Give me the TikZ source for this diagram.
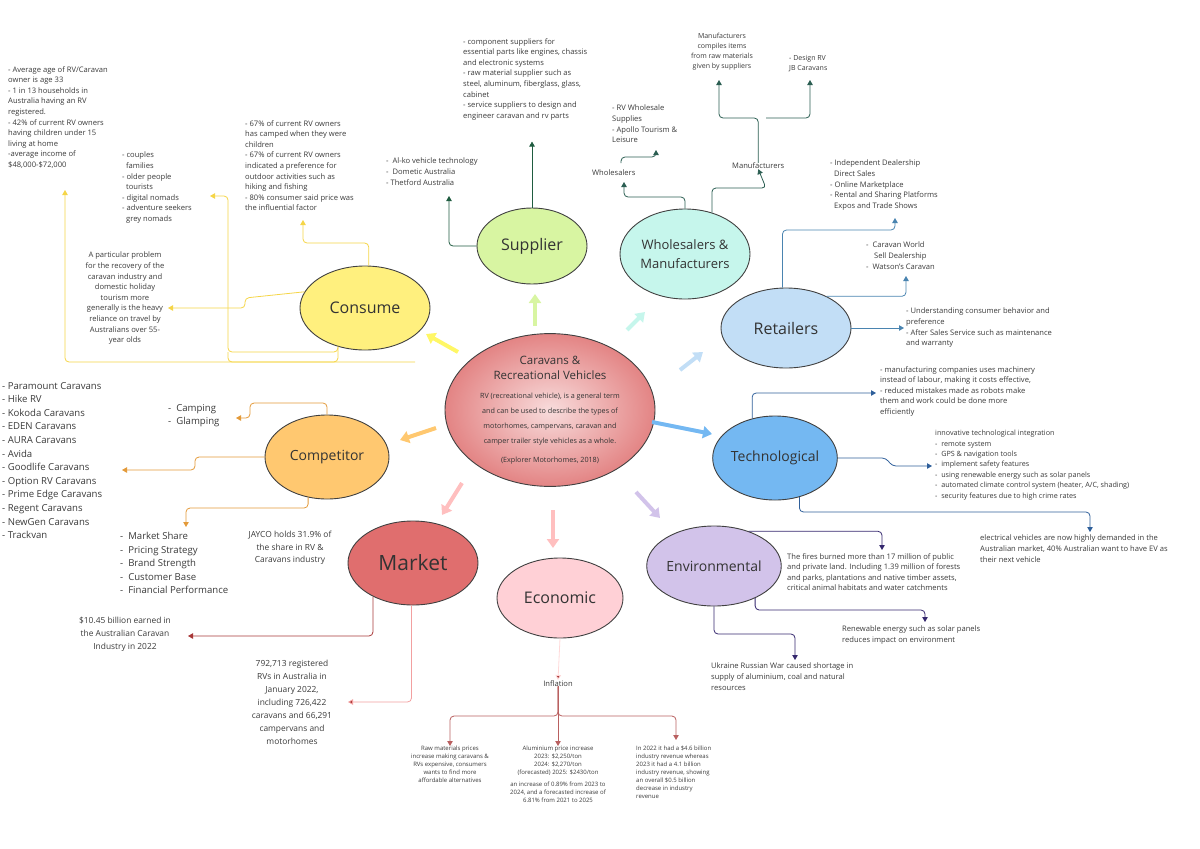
\documentclass[tikz,border=0pt]{standalone}
\usepackage{fontspec}
\setmainfont{Open Sans}
\usetikzlibrary{shapes.geometric,arrows.meta}
\definecolor{cyel}{HTML}{F5D547}
\definecolor{cgrn}{HTML}{1F5C40}
\definecolor{cteal}{HTML}{2B5E52}
\definecolor{cblu}{HTML}{4A84B0}
\definecolor{ctech}{HTML}{2F5F9A}
\definecolor{cenv}{HTML}{35286E}
\definecolor{cmkt}{HTML}{A83838}
\definecolor{cmkl}{HTML}{F2A0A0}
\definecolor{cora}{HTML}{E39A3A}
\definecolor{ctxt}{HTML}{3A3A3A}
\definecolor{fC}{HTML}{E38484}
\definecolor{fCi}{HTML}{F8DCDC}
\definecolor{fSup}{HTML}{D8F5A2}
\definecolor{fWm}{HTML}{C6F6EC}
\definecolor{fCons}{HTML}{FFF07E}
\definecolor{fRet}{HTML}{C2DEF6}
\definecolor{fComp}{HTML}{FFC870}
\definecolor{fTech}{HTML}{74B8F2}
\definecolor{fMkt}{HTML}{E06E6E}
\definecolor{fEco}{HTML}{FFD0D6}
\definecolor{fEnv}{HTML}{D2C3EA}
\newcommand{\smf}{\fontsize{7.2}{10}\selectfont}
\tikzset{
 cat/.style={ellipse,draw=black!75,line width=0.9pt,inner sep=0,text=black!80,font=\fontsize{16}{18}\selectfont},
 txt/.style={inner sep=0,align=left,text=ctxt,font=\fontsize{7.6}{10.6}\selectfont},
 txtc/.style={txt,align=center},
 big/.style={txt,font=\fontsize{9.6}{13.6}\selectfont},
 tiny/.style={txtc,font=\fontsize{6}{8}\selectfont},
 cl/.style={line width=0.8pt,rounded corners=4pt,-{Triangle[width=5.5pt,length=5pt]}},
 fat/.style={line width=4pt,-{Triangle[width=12pt,length=9pt]}},
}
\begin{document}
\begin{tikzpicture}[x=1pt,y=-1pt]
\useasboundingbox (0,0) rectangle (1200,849);
% main nodes
\node[cat,minimum width=210,minimum height=150,inner color=fCi,outer color=fC,draw=black!75,align=center,font=\fontsize{11.5}{15}\selectfont] (c) at (550,410)
 {Caravans \&\\Recreational Vehicles\\[4pt]
 \smf RV (recreational vehicle), is a general term\\\smf and can be used to describe the types of\\\smf motorhomes, campervans, caravan and\\\smf camper trailer style vehicles as a whole.\\[4pt]
 \smf (Explorer Motorhomes, 2018)};
\node[cat,fill=fSup,minimum width=110,minimum height=76] (sup) at (532,246) {Supplier};
\node[cat,fill=fWm,minimum width=130,minimum height=90,align=center,font=\fontsize{13}{19}\selectfont] (wm) at (685,254) {Wholesalers \&\\Manufacturers};
\node[cat,fill=fCons,minimum width=130,minimum height=84] (cons) at (365,308) {Consume};
\node[cat,fill=fRet,minimum width=130,minimum height=80] (ret) at (786,328) {Retailers};
\node[cat,fill=fComp,minimum width=124,minimum height=84,font=\fontsize{14}{16}\selectfont] (comp) at (327,457) {Competitor};
\node[cat,fill=fTech,minimum width=124,minimum height=84,font=\fontsize{14}{16}\selectfont] (tech) at (775,458) {Technological};
\node[cat,fill=fMkt,minimum width=130,minimum height=84,font=\fontsize{21}{24}\selectfont] (mkt) at (413,563) {Market};
\node[cat,fill=fEco,minimum width=126,minimum height=80] (eco) at (560,598) {Economic};
\node[cat,fill=fEnv,minimum width=130,minimum height=80,font=\fontsize{14}{16}\selectfont] (env) at (714,566) {Environmental};
% thick arrows
\coordinate (a1) at (458,352); \coordinate (b1) at (426,334);
\coordinate (a2) at (535,326); \coordinate (b2) at (535,294);
\coordinate (a3) at (627,330); \coordinate (b3) at (645,312);
\coordinate (a4) at (680,370); \coordinate (b4) at (703,352);
\coordinate (a5) at (436,428); \coordinate (b5) at (400,440);
\coordinate (a6) at (652,422); \coordinate (b6) at (712,434);
\coordinate (a7) at (462,483); \coordinate (b7) at (442,515);
\coordinate (a8) at (553,510); \coordinate (b8) at (553,548);
\coordinate (a9) at (636,492); \coordinate (b9) at (660,518);
\draw[fat,yellow!60] (a1) -- (b1);
\draw[fat,fSup] (a2) -- (b2);
\draw[fat,fWm] (a3) -- (b3);
\draw[fat,fRet] (a4) -- (b4);
\draw[fat,fComp] (a5) -- (b5);
\draw[fat,fTech] (a6) -- (b6);
\draw[fat,red!25] (a7) -- (b7);
\draw[fat,red!25] (a8) -- (b8);
\draw[fat,fEnv] (a9) -- (b9);
% Consume
\node[txt,anchor=north west] (age) at (8,66) {- Average age of RV/Caravan\\owner is age 33\\- 1 in 13 households in\\Australia having an RV\\registered.\\- 42\% of current RV owners\\having children under 15\\living at home\\-average income of\\\$48,000-\$72,000};
\node[txt,anchor=north west] (seg) at (122,152) {- couples\\\ \ families\\- older people\\\ \ tourists\\- digital nomads\\- adventure seekers\\\ \ grey nomads};
\node[txt,anchor=north west] (own) at (245,120) {- 67\% of current RV owners\\has camped when they were\\children\\- 67\% of current RV owners\\indicated a preference for\\outdoor activities such as\\hiking and fishing\\- 80\% consumer said price was\\the influential factor};
\node[txtc,anchor=north] (prob) at (125,252) {A particular problem\\for the recovery of the\\caravan industry and\\domestic holiday\\tourism more\\generally is the heavy\\reliance on travel by\\Australians over 55-\\year olds};
\draw[cl,cyel] (cons.-125) |- (65,362) -- (65,190);
\draw[cl,cyel] (cons.-125) |- (228,352) |- (210,196);
\draw[cl,cyel] (cons.165) -- (245,298) |- (168,308);
\draw[cl,cyel] (cons.85) |- (303,243) -- (303,220);
\draw[line width=0.8pt,cyel,rounded corners=4pt] (228,352) |- (415,362);
% Supplier
\node[txt,anchor=north west] (al) at (386,158) {-\ \ Al-ko vehicle technology\\-\ \ Dometic Australia\\- Thetford Australia};
\node[txt,anchor=north west] (comps) at (463,38) {- component suppliers for\\essential parts like engines, chassis\\and electronic systems\\- raw material supplier such as\\steel, aluminum, fiberglass, glass,\\cabinet\\- service suppliers to design and\\engineer caravan and rv parts};
\draw[cl,cgrn] (sup.west) -| (449,196);
\draw[cl,cgrn] (sup.north) -- ++(0,-66);
% Wholesalers & Manufacturers
\node[txt,anchor=west] (whl) at (592,173) {Wholesalers};
\node[txt,anchor=north west] (rvw) at (612,105) {- RV Wholesale\\Supplies\\- Apollo Tourism \&\\Leisure};
\node[txt,anchor=west] (man) at (732,166) {Manufacturers};
\node[txtc,anchor=north,font=\fontsize{7}{10}\selectfont] (mtxt) at (722,33) {Manufacturers\\compiles items\\from raw materials\\given by suppliers};
\node[txt,anchor=north west,font=\fontsize{7}{10}\selectfont] (jb) at (789,55) {- Design RV\\JB Caravans};
\draw[cl,cteal] (wm.north) |- (624,197) -- (624,182);
\draw[cl,cteal] (621,163) |- (656,157) -- (656,150);
\draw[cl,cteal] (wm.57) |- (766,188) -- (man.south);
\draw[cl,cteal] (man.north) |- (719,118) -- (719,80);
\draw[cl,cteal] (766,118) -| (810,80);
% Retailers
\node[txt,anchor=north west] (ind) at (830,160) {- Independent Dealership\\\ \ Direct Sales\\- Online Marketplace\\- Rental and Sharing Platforms\\\ \ Expos and Trade Shows};
\node[txt,anchor=north west] (cw) at (866,242) {-\ \ Caravan World\\\ \ \ \ Sell Dealership\\-\ \ Watson's Caravan};
\node[txt,anchor=north west] (und) at (906,308) {- Understanding consumer behavior and\\preference\\- After Sales Service such as maintenance\\and warranty};
\draw[cl,cblu] (ret.95) |- (895,230) -- (895,218);
\draw[cl,cblu] (ret.38) -| (906,276);
\draw[cl,cblu] (ret.east) -- (904,328);
% Technological
\node[txt,anchor=north west] (mc) at (880,366) {- manufacturing companies uses machinery\\instead of labour, making it costs effective,\\- reduced mistakes made as robots make\\them and work could be done more\\efficiently};
\node[txt,anchor=north west,font=\fontsize{7.2}{10.4}\selectfont] (inn) at (935,430) {innovative technological integration\\-\ \ remote system\\-\ \ GPS \& navigation tools\\-\ \ implement safety features\\-\ \ using renewable energy such as solar panels\\-\ \ automated climate control system (heater, A/C, shading)\\-\ \ security features due to high crime rates};
\node[txt,anchor=north west] (ev) at (980,535) {electrical vehicles are now highly demanded in the\\Australian market, 40\% Australian want to have EV as\\their next vehicle};
\draw[cl,ctech] (tech.120) |- (876,393);
\draw[cl,ctech] (tech.east) -- (886,458) -- (892,466) -- (932,466);
\draw[cl,ctech] (tech.-58) |- (1090,512) -- (1090,532);
% Environmental
\node[txt,anchor=north west] (fire) at (787,553) {The fires burned more than 17 million of public\\and private land. Including 1.39 million of forests\\and parks, plantations and native timber assets,\\critical animal habitats and water catchments};
\node[txt,anchor=north west] (ren) at (842,626) {Renewable energy such as solar panels\\reduces impact on environment};
\node[txt,anchor=north west] (ukr) at (711,663) {Ukraine Russian War caused shortage in\\supply of aluminium, coal and natural\\resources};
\draw[cl,cenv] (env.45) -| (882,550);
\draw[cl,cenv] (env.-38) |- (925,610) -- (925,622);
\draw[cl,cenv] (env.-90) |- (795,634) -- (795,660);
% Market
\node[txtc,anchor=north,font=\fontsize{8.4}{13}\selectfont] (bil) at (125,617) {\$10.45 billion earned in\\the Australian Caravan\\Industry in 2022};
\node[txtc,anchor=north,font=\fontsize{8.4}{13}\selectfont] (reg) at (292,660) {792,713 registered\\RVs in Australia in\\January 2022,\\including 726,422\\caravans and 66,291\\campervans and\\motorhomes};
\node[txtc,anchor=north,font=\fontsize{8.4}{12.5}\selectfont] (jay) at (290,531) {JAYCO holds 31.9\% of\\the share in RV \&\\Caravans industry};
\draw[cl,cmkt] (mkt.-140) |- (188,636);
\draw[cl,cmkl,-{Triangle[width=5.5pt,length=5pt,fill=cmkt]}] (mkt.-92) |- (348,702);
% Competitor
\node[big,anchor=north west] (camp) at (168,404) {-\ \ Camping\\-\ \ Glamping};
\node[big,anchor=north west] (list) at (2,382) {- Paramount Caravans\\- Hike RV\\- Kokoda Caravans\\- EDEN Caravans\\- AURA Caravans\\- Avida\\- Goodlife Caravans\\- Option RV Caravans\\- Prime Edge Caravans\\- Regent Caravans\\- NewGen Caravans\\- Trackvan};
\node[big,anchor=north west] (ms) at (120,532) {-\ \ Market Share\\-\ \ Pricing Strategy\\-\ \ Brand Strength\\-\ \ Customer Base\\-\ \ Financial Performance};
\draw[cl,cora] (comp.north) |- (250,403) |- (236,418);
\draw[cl,cora] (comp.west) -| (195,470) -- (122,470);
\draw[cl,cora] (comp.-115) |- (186,508) -- (186,527);
% Economic
\node[txt,anchor=north] (inf) at (558,680) {Inflation};
\draw[cl,red!15,-{Triangle[width=5.5pt,length=5pt,fill=cmkt]}] (eco.south) -- (inf.north);
\node[tiny,anchor=north] (raw) at (450,746) {Raw materials prices\\increase making caravans \&\\RVs expensive, consumers\\wants to find more\\affordable alternatives};
\node[tiny,anchor=north] (alu) at (558,746) {Aluminium price increase\\2023: \$2,250/ton\\2024: \$2,270/ton\\(forecasted) 2025: \$2430/ton\\[4pt]an increase of 0.89\% from 2023 to\\2024, and a forecasted increase of\\6.81\% from 2021 to 2025};
\node[tiny,anchor=north west,align=left] (rev) at (636,746) {In 2022 it had a \$4.6 billion\\industry revenue whereas\\2023 it had a 4.1 billion\\industry revenue, showing\\an overall \$0.5 billion\\decrease in industry\\revenue};
\draw[cl,cmkt!80] (inf.south) |- (450,716) -- (raw.north);
\draw[cl,cmkt!80] (inf.south) -- (alu.north);
\draw[cl,cmkt!80] (inf.south) |- (676,716) -- (676,740);
\end{tikzpicture}
\end{document}
